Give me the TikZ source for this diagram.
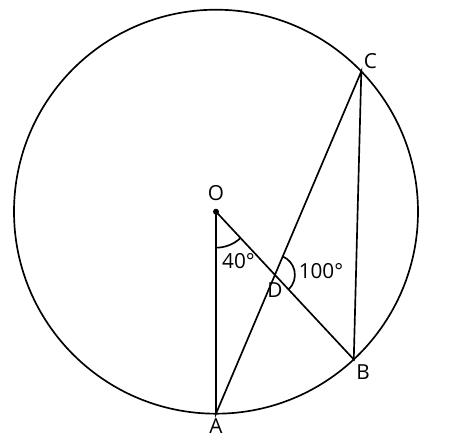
\documentclass[tikz,border=0pt]{standalone}
\usepackage{fontspec}
\setmainfont{Open Sans}
\usetikzlibrary{angles,calc,positioning}
\tikzset{
  lbl/.style={inner sep=1pt, font=\fontsize{11.8}{13}\selectfont},
}
\begin{document}
\begin{tikzpicture}[line width=0.95pt]
\useasboundingbox (0,0) rectangle (9.08,8.94);
\coordinate (O) at (4.32,4.706);
\path (O) ++(270:4.04) coordinate (A);
\path (O) ++(-47:4.04) coordinate (B);
\path (O) ++(44:4.04) coordinate (C);
\coordinate (D) at (intersection of A--C and O--B);
\draw (O) circle (4.04);
\draw (O) -- (A) -- (C) -- (B) -- (O);
\fill (O) circle (0.06);
\pic[draw, angle radius=0.72cm] {angle = A--O--D};
\pic[draw, angle radius=0.4cm] {angle = B--D--C};
\node[lbl, above=0.16cm of O] (labelO) {O};
\node[lbl, above right=0.0cm and 0.0cm of C] (labelC) {C};
\node[lbl, below right=0.06cm and 0.0cm of B] (labelB) {B};
\node[lbl, below=0.04cm of A] (labelA) {A};
\node[lbl, below=0.1cm of D] (labelD) {D};
\node[lbl] (ang40) at (4.77,3.72) {40°};
\node[lbl] (ang100) at (6.42,3.52) {100°};
\end{tikzpicture}
\end{document}
